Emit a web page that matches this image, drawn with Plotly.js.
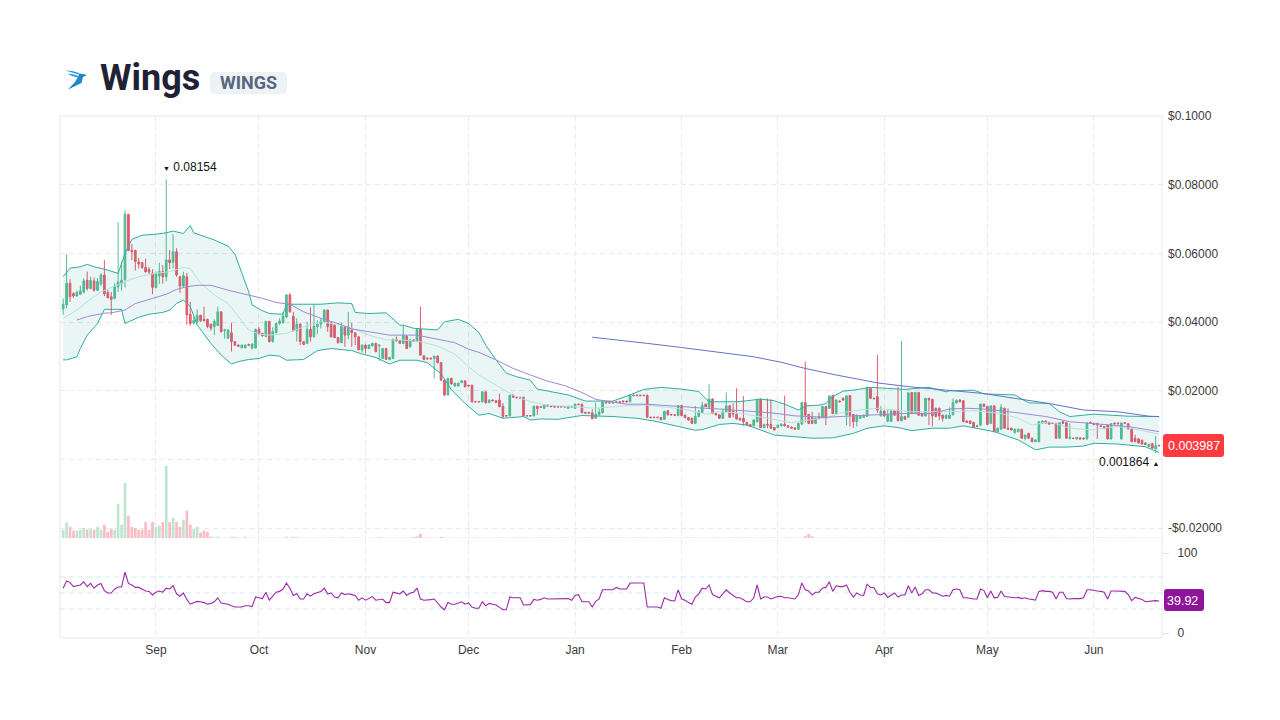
<!DOCTYPE html>
<html><head><meta charset="utf-8">
<script src="https://cdn.plot.ly/plotly-3.0.1.min.js"></script>
<style>html,body{margin:0;padding:0;background:#fff}#c{width:1280px;height:720px}</style>
</head><body><div id="c"></div>
<script>
const startDate = Date.UTC(2018,7,5);
const monthTicks = ['2018-09-01','2018-10-01','2018-11-01','2018-12-01','2019-01-01','2019-02-01','2019-03-01','2019-04-01','2019-05-01','2019-06-01'];
const monthLabels = ['Sep','Oct','Nov','Dec','Jan','Feb','Mar','Apr','May','Jun'];
const priceTicks = [0.1,0.08,0.06,0.04,0.02,0,-0.02];
const priceLabels = ['$0.1000','$0.08000','$0.06000','$0.04000','$0.02000','','-$0.02000'];
const rsiTicks = [100,0];
const rsiLevels = [70,50,30];

const open = [
.0438,.0450,.0513,.0483,.0476,.0481,.0488,.0522,.0498,.0520,
.0492,.0511,.0537,.0486,.0474,.0469,.0503,.0511,.0524,.0714,
.0609,.0609,.0575,.0573,.0559,.0553,.0542,.0501,.0534,.0547,
.0532,.0581,.0574,.0605,.0532,.0505,.0532,.0423,.0397,.0401,
.0420,.0408,.0408,.0394,.0387,.0390,.0430,.0375,.0353,.0369,
.0343,.0333,.0325,.0325,.0335,.0324,.0325,.0379,.0367,.0358,
.0402,.0343,.0369,.0396,.0398,.0415,.0479,.0417,.0375,.0394,
.0343,.0338,.0379,.0357,.0386,.0394,.0401,.0435,.0396,.0391,
.0355,.0340,.0385,.0362,.0377,.0369,.0357,.0319,.0333,.0323,
.0331,.0338,.0331,.0294,.0323,.0291,.0294,.0350,.0346,.0338,
.0359,.0328,.0348,.0344,.0379,.0302,.0295,.0295,.0294,.0301,
.0282,.0231,.0188,.0236,.0214,.0214,.0224,.0229,.0216,.0216,
.0169,.0169,.0168,.0197,.0166,.0173,.0171,.0173,.0155,.0128,
.0127,.0187,.0182,.0181,.0181,.0128,.0128,.0127,.0155,.0153,
.0149,.0158,.0155,.0154,.0154,.0154,.0154,.0149,.0155,.0149,
.0161,.0161,.0137,.0137,.0136,.0120,.0130,.0136,.0167,.0166,
.0166,.0168,.0168,.0170,.0170,.0168,.0187,.0187,.0187,.0187,
.0187,.0123,.0123,.0123,.0122,.0117,.0142,.0131,.0130,.0128,
.0157,.0129,.0122,.0120,.0105,.0125,.0137,.0161,.0152,.0176,
.0134,.0130,.0120,.0139,.0156,.0141,.0132,.0120,.0120,.0108,
.0101,.0098,.0110,.0175,.0093,.0102,.0102,.0093,.0093,.0098,
.0103,.0098,.0094,.0092,.0088,.0103,.0166,.0131,.0122,.0105,
.0124,.0122,.0154,.0149,.0186,.0134,.0170,.0178,.0130,.0186,
.0131,.0110,.0120,.0123,.0126,.0207,.0178,.0183,.0127,.0141,
.0111,.0111,.0141,.0144,.0113,.0125,.0123,.0195,.0134,.0195,
.0134,.0127,.0178,.0175,.0149,.0149,.0129,.0120,.0120,.0130,
.0165,.0173,.0171,.0112,.0112,.0108,.0098,.0100,.0161,.0154,
.0105,.0156,.0081,.0088,.0149,.0091,.0091,.0078,.0081,.0088,
.0062,.0076,.0062,.0052,.0052,.0106,.0112,.0107,.0106,.0105,
.0062,.0110,.0107,.0062,.0062,.0060,.0063,.0062,.0060,.0108,
.0105,.0105,.0098,.0096,.0100,.0060,.0106,.0106,.0060,.0107,
.0104,.0090,.0062,.0060,.0056,.0048,.0038,.0046,.0031,.0041];
const high = [
.0469,.0597,.0525,.0487,.0492,.0506,.0527,.0547,.0532,.0530,
.0528,.0542,.0581,.0495,.0488,.0513,.0690,.0576,.0726,.0714,
.0627,.0609,.0587,.0574,.0585,.0560,.0554,.0547,.0573,.0566,
.08154,.0610,.0656,.0615,.0535,.0547,.0544,.0459,.0416,.0437,
.0421,.0445,.0410,.0396,.0408,.0445,.0430,.0380,.0379,.0398,
.0345,.0335,.0335,.0335,.0337,.0338,.0381,.0385,.0369,.0404,
.0404,.0385,.0398,.0411,.0430,.0481,.0485,.0430,.0411,.0398,
.0344,.0401,.0443,.0452,.0405,.0411,.0437,.0437,.0401,.0393,
.0357,.0398,.0387,.0430,.0398,.0371,.0359,.0335,.0335,.0335,
.0340,.0340,.0335,.0325,.0325,.0299,.0352,.0358,.0348,.0391,
.0361,.0350,.0350,.0381,.0445,.0304,.0297,.0297,.0301,.0303,
.0284,.0233,.0238,.0238,.0224,.0224,.0231,.0231,.0218,.0218,
.0170,.0170,.0199,.0199,.0175,.0175,.0173,.0192,.0165,.0129,
.0189,.0189,.0184,.0183,.0183,.0129,.0129,.0157,.0157,.0155,
.0161,.0160,.0157,.0156,.0156,.0156,.0156,.0157,.0156,.0163,
.0163,.0163,.0139,.0139,.0146,.0165,.0149,.0169,.0169,.0168,
.0168,.0170,.0170,.0172,.0172,.0189,.0189,.0189,.0189,.0189,
.0189,.0125,.0125,.0125,.0124,.0142,.0144,.0133,.0132,.0159,
.0159,.0131,.0124,.0122,.0156,.0144,.0168,.0163,.0219,.0178,
.0136,.0132,.0146,.0195,.0159,.0163,.0207,.0122,.0185,.0110,
.0103,.0117,.0177,.0177,.0104,.0178,.0176,.0095,.0102,.0105,
.0186,.0100,.0096,.0094,.0107,.0168,.0285,.0133,.0139,.0122,
.0137,.0156,.0156,.0187,.0188,.0175,.0172,.0180,.0187,.0188,
.0133,.0131,.0127,.0131,.0212,.0209,.0180,.0304,.0155,.0143,
.0144,.0143,.0143,.0212,.0345,.0127,.0196,.0197,.0197,.0197,
.0136,.0180,.0180,.0177,.0151,.0151,.0131,.0131,.0152,.0178,
.0175,.0175,.0173,.0114,.0114,.0110,.0100,.0163,.0163,.0156,
.0158,.0158,.0093,.0161,.0151,.0149,.0093,.0090,.0090,.0090,
.0073,.0078,.0064,.0059,.0112,.0114,.0114,.0109,.0108,.0107,
.0109,.0112,.0109,.0105,.0064,.0066,.0065,.0064,.0108,.0110,
.0107,.0107,.0100,.0098,.0102,.0106,.0108,.0108,.0108,.0109,
.0106,.0092,.0072,.0062,.0058,.0050,.0046,.0048,.0068,.0043];
const low = [
.0421,.0440,.0459,.0470,.0474,.0479,.0483,.0492,.0495,.0488,
.0490,.0505,.0476,.0469,.0421,.0466,.0488,.0491,.0501,.0608,
.0580,.0550,.0556,.0555,.0545,.0540,.0481,.0498,.0511,.0512,
.0518,.0554,.0556,.0532,.0485,.0500,.0392,.0389,.0392,.0396,
.0400,.0402,.0382,.0375,.0362,.0390,.0370,.0352,.0352,.0314,
.0330,.0328,.0323,.0323,.0330,.0320,.0323,.0362,.0358,.0356,
.0341,.0341,.0367,.0392,.0396,.0411,.0428,.0373,.0343,.0333,
.0333,.0336,.0343,.0355,.0365,.0381,.0399,.0372,.0355,.0353,
.0338,.0340,.0328,.0350,.0328,.0333,.0319,.0311,.0309,.0321,
.0329,.0312,.0287,.0292,.0290,.0289,.0292,.0343,.0336,.0336,
.0321,.0326,.0342,.0342,.0302,.0289,.0291,.0291,.0236,.0280,
.0229,.0184,.0186,.0218,.0212,.0212,.0222,.0210,.0212,.0166,
.0166,.0166,.0166,.0163,.0164,.0169,.0164,.0152,.0119,.0125,
.0125,.0179,.0178,.0177,.0125,.0125,.0125,.0125,.0130,.0150,
.0147,.0154,.0152,.0151,.0151,.0151,.0151,.0147,.0152,.0147,
.0158,.0134,.0133,.0133,.0117,.0118,.0128,.0134,.0163,.0163,
.0163,.0164,.0164,.0166,.0166,.0166,.0184,.0184,.0184,.0184,
.0121,.0120,.0120,.0120,.0114,.0115,.0128,.0128,.0127,.0126,
.0126,.0120,.0113,.0103,.0103,.0123,.0135,.0152,.0150,.0132,
.0128,.0118,.0118,.0137,.0121,.0122,.0116,.0113,.0098,.0098,
.0095,.0096,.0108,.0091,.0091,.0091,.0089,.0084,.0091,.0096,
.0096,.0092,.0089,.0086,.0086,.0101,.0108,.0103,.0103,.0103,
.0117,.0120,.0100,.0147,.0132,.0132,.0166,.0171,.0100,.0096,
.0092,.0096,.0118,.0121,.0124,.0176,.0175,.0136,.0125,.0125,
.0109,.0109,.0127,.0111,.0111,.0115,.0121,.0132,.0132,.0127,
.0125,.0125,.0100,.0096,.0123,.0115,.0110,.0118,.0118,.0128,
.0163,.0166,.0108,.0106,.0103,.0091,.0095,.0098,.0152,.0100,
.0103,.0079,.0079,.0086,.0089,.0086,.0084,.0076,.0079,.0060,
.0056,.0060,.0050,.0050,.0050,.0104,.0104,.0101,.0103,.0060,
.0060,.0103,.0060,.0058,.0059,.0058,.0058,.0058,.0058,.0104,
.0100,.0060,.0094,.0088,.0058,.0058,.0102,.0102,.0058,.0103,
.0087,.0050,.0050,.0046,.0043,.0042,.0036,.0031,.001864,.0039];
const close = [
.0452,.0513,.0474,.0476,.0487,.0491,.0520,.0498,.0522,.0493,
.0518,.0537,.0482,.0471,.0466,.0505,.0517,.0522,.0714,.0608,
.0605,.0576,.0569,.0559,.0546,.0546,.0501,.0540,.0548,.0532,
.0581,.0573,.0605,.0537,.0505,.0535,.0421,.0396,.0405,.0420,
.0404,.0404,.0387,.0382,.0402,.0430,.0372,.0377,.0377,.0343,
.0333,.0330,.0333,.0333,.0333,.0336,.0379,.0365,.0360,.0402,
.0343,.0372,.0396,.0403,.0418,.0479,.0430,.0375,.0394,.0343,
.0335,.0379,.0357,.0388,.0394,.0403,.0435,.0387,.0357,.0355,
.0340,.0387,.0362,.0387,.0369,.0357,.0319,.0333,.0323,.0333,
.0338,.0314,.0333,.0323,.0292,.0297,.0350,.0345,.0338,.0362,
.0323,.0348,.0344,.0379,.0304,.0291,.0293,.0293,.0301,.0282,
.0231,.0188,.0236,.0220,.0222,.0222,.0229,.0212,.0214,.0168,
.0168,.0168,.0197,.0165,.0173,.0171,.0166,.0154,.0125,.0127,
.0187,.0181,.0180,.0179,.0127,.0127,.0127,.0155,.0148,.0152,
.0159,.0156,.0154,.0153,.0153,.0153,.0153,.0155,.0153,.0161,
.0160,.0136,.0135,.0135,.0119,.0132,.0138,.0167,.0165,.0165,
.0165,.0166,.0166,.0168,.0168,.0187,.0186,.0186,.0186,.0186,
.0123,.0122,.0122,.0122,.0116,.0140,.0130,.0130,.0129,.0157,
.0128,.0122,.0115,.0105,.0125,.0139,.0158,.0154,.0176,.0134,
.0130,.0120,.0139,.0156,.0123,.0132,.0118,.0115,.0110,.0100,
.0097,.0115,.0175,.0093,.0102,.0100,.0091,.0086,.0100,.0103,
.0098,.0094,.0091,.0088,.0105,.0166,.0129,.0105,.0105,.0120,
.0120,.0154,.0120,.0185,.0134,.0173,.0168,.0173,.0185,.0129,
.0110,.0129,.0125,.0129,.0210,.0178,.0177,.0144,.0141,.0127,
.0129,.0141,.0129,.0113,.0125,.0117,.0194,.0134,.0195,.0129,
.0127,.0178,.0173,.0127,.0125,.0127,.0120,.0129,.0129,.0166,
.0172,.0168,.0110,.0108,.0105,.0093,.0097,.0161,.0154,.0102,
.0156,.0081,.0091,.0152,.0091,.0088,.0086,.0088,.0088,.0062,
.0071,.0062,.0052,.0057,.0110,.0112,.0106,.0103,.0105,.0062,
.0107,.0105,.0062,.0065,.0061,.0064,.0060,.0060,.0106,.0106,
.0102,.0101,.0096,.0090,.0060,.0104,.0104,.0104,.0106,.0105,
.0089,.0052,.0052,.0048,.0045,.0044,.0044,.0033,.0040,.003987];
const volume = [
25,46,33,22,22,25,30,25,28,25,
33,25,40,18,28,25,103,40,165,67,
33,30,25,25,48,25,48,33,37,48,
216,48,60,48,33,55,82,40,28,33,
16,22,18,4,2,4,1,1,1,3,
3,1,1,4,1,1,1,1,1,1,
1,1,1,1,1,4,1,3,3,1,
1,1,1,1,1,1,1,1,1,1,
1,3,1,1,1,1,1,1,1,1,
1,1,3,1,1,1,1,1,1,1,
1,1,3,5,13,1,1,1,1,1,
3,1,1,1,1,1,1,1,1,1,
1,1,1,1,1,1,1,1,1,1,
1,1,1,1,1,1,1,1,1,1,
1,1,1,1,1,1,1,1,1,1,
1,1,1,1,1,1,1,1,1,1,
1,1,1,1,1,1,1,1,1,1,
1,1,1,1,1,1,1,1,1,1,
1,1,1,1,1,1,1,1,1,1,
1,1,1,1,1,1,1,1,1,1,
1,1,1,1,1,1,1,1,1,1,
1,1,1,1,1,1,5,12,5,1,
1,1,1,1,1,1,1,1,1,1,
1,1,1,1,1,1,1,1,1,1,
1,1,1,1,1,1,1,1,1,1,
1,1,1,1,1,1,1,1,1,1,
1,1,1,1,1,1,1,1,1,1,
1,1,1,1,1,1,1,1,1,1,
1,1,1,1,1,1,1,1,1,1,
1,1,1,1,1,1,1,1,1,1,
1,1,1,1,1,1,1,1,1,1,
1,1,1,1,1,1,1,1,1,1];
const rsi = [
56,65,63,58,59,60,64,58,62,56,
60,62,53,50,50,55,57.5,57.5,76,62,
60,57,57,55,52.5,52,47.5,51,52.5,51,
56,55,59,49,46,50,42,36,37.5,39.5,
39,38,36,37,39,44,37.5,37,36,34,
32.5,32.5,32.5,34,34,33,45,44,43,51,
41,46,51,52,55,62.5,56,47,49,42.5,
42.5,49,46,49,51,52,56,49,50,45,
44,50,48,49,48,47,41,44,41,43,
45.5,41,41.5,42.5,38,38,51,50,49,52.5,
47,50,51,56,42.5,41,41,41.7,42.5,37.5,
32.5,29,38,36,36,37.5,39,36,37.5,32.5,
31,31,39,34,37,36,35,32,29,29,
45,44,44,44,35,35,35.5,42,41,42,
44,42.5,42.5,42.5,42.5,42.5,42.5,43,41,47,
48,39,39,39,32.5,39.5,42.5,54,54,54,
54,57,55,55,55,62.5,62.5,62.5,62.5,62.5,
32.5,32.5,32.5,32.5,31,44,42,40.5,40,54,
42.5,41,38,36,45,49,56,55,60,48,
46,44,49,54,50,47.5,44,44,41,39,
39,44,60,42.5,45,45,42.5,44,45.5,46,
44,44,43,42.5,48,62.5,54,52.5,47.5,51,
51,56,57,64,52,59,58,58,60,51,
45,50,47.5,47,61,57,56.5,49,47.5,50,
44.5,47,50,45,47.5,47.5,59,50,57.5,47,
49,54,54,50,50,48,46,47,46,54,
55,54,44,44,43,42.5,42.5,55,53,44,
52.5,44,44.5,52.5,45.5,45,45,44,44.5,43,
44,42.5,42,41,52,53,52,52,51,42.5,
51,51,43,42.5,43,43,43,44,54,54,
53,52.5,52,51,42.5,52.5,52.5,52.5,52.5,52,
48,40.5,44.5,43,42,39,39.5,39.5,40.5,39.92];

const upperDay = [0,2,5,7,9,12,16,18,20,23,27,30,32,35,37,38,44,48,50,52,54,55,58,60,64,65,70,75,80,84,85,89,94,98,99,102,109,111,115,118,121,123,126,129,132,136,138,141,147,152,160,165,169,174,180,185,188,191,196,199,203,207,210,214,216,220,222,224,227,230,235,240,245,252,257,258,265,268,277,281,287,290,293,300,310,319];
const upper = [.0532,.0557,.0561,.0568,.0561,.0554,.0542,.0600,.0641,.0653,.0656,.0660,.0665,.0658,.0681,.0660,.0639,.0621,.0598,.0542,.0488,.0450,.0433,.0425,.0423,.0452,.0452,.0452,.0456,.0454,.0428,.0425,.0427,.0391,.0391,.0382,.0377,.0401,.0408,.0396,.0370,.0333,.0290,.0251,.0241,.0231,.0205,.0200,.0188,.0170,.0170,.0188,.0204,.0210,.0205,.0198,.0168,.0168,.0168,.0171,.0176,.0171,.0161,.0144,.0156,.0158,.0163,.0183,.0199,.0202,.0210,.0207,.0204,.0210,.0197,.0200,.0202,.0191,.0188,.0165,.0163,.0139,.0125,.0132,.0126,.0125];
const lowerDay = [0,1,4,5,7,10,12,14,17,18,22,25,29,31,33,35,37,39,43,46,49,51,54,57,60,63,65,70,74,78,84,87,91,95,98,103,106,110,113,117,121,124,128,134,136,139,144,149,151,160,167,172,179,184,186,191,195,199,203,207,211,215,218,224,230,234,239,243,247,253,258,262,268,271,278,283,287,292,297,300,307,311,315,319];
const lower = [.0290,.0290,.0299,.0323,.0362,.0396,.0437,.0437,.0437,.0396,.0414,.0423,.0428,.0435,.0454,.0464,.0445,.0392,.0338,.0304,.0278,.0285,.0291,.0294,.0304,.0301,.0289,.0291,.0317,.0323,.0317,.0307,.0297,.0278,.0289,.0289,.0282,.0249,.0203,.0163,.0129,.0134,.0120,.0125,.0115,.0118,.0117,.0125,.0128,.0125,.0120,.0112,.0097,.0085,.0087,.0102,.0105,.0100,.0086,.0071,.0068,.0064,.0062,.0063,.0076,.0091,.0098,.0093,.0084,.0091,.0091,.0098,.0088,.0081,.0057,.0028,.0036,.0036,.0039,.0047,.0045,.0042,.0037,.0020];
const middleDay = [0,4,7,11,16,19,22,27,31,35,37,40,44,48,51,54,57,60,65,70,75,80,84,89,94,99,104,109,114,118,121,125,131,136,141,151,155,163,170,176,182,187,191,197,202,207,212,217,222,226,232,237,242,247,253,258,265,273,278,282,287,293,299,307,312,319];
const middle = [.0411,.0435,.0459,.0488,.0508,.0522,.0532,.0542,.0547,.0559,.0556,.0513,.0479,.0454,.0416,.0377,.0365,.0362,.0367,.0386,.0401,.0393,.0382,.0362,.0348,.0348,.0343,.0330,.0307,.0270,.0246,.0222,.0187,.0168,.0158,.0152,.0149,.0156,.0158,.0152,.0144,.0132,.0139,.0135,.0126,.0115,.0107,.0115,.0120,.0135,.0144,.0149,.0144,.0139,.0139,.0139,.0142,.0134,.0120,.0100,.0110,.0091,.0086,.0096,.0088,.0074];
const smaDay = [4,7,12,14,18,21,26,30,33,36,39,43,48,54,58,62,66,70,75,80,84,89,95,103,109,114,118,121,126,131,136,141,146,151,155,160,164,170,176,182,187,191,201,206,213,222,230,238,245,253,258,263,268,277,286,293,300,310,319];
const sma = [.0406,.0416,.0426,.0427,.0435,.0454,.0469,.0481,.0495,.0503,.0507,.0507,.0493,.0479,.0469,.0457,.0452,.0430,.0411,.0396,.0380,.0372,.0362,.0362,.0350,.0340,.0321,.0312,.0290,.0265,.0246,.0228,.0215,.0195,.0175,.0166,.0161,.0161,.0156,.0151,.0149,.0147,.0141,.0136,.0127,.0123,.0127,.0131,.0134,.0134,.0147,.0149,.0147,.0137,.0125,.0110,.0105,.0096,.0081];
const longDay = [154,160,170,180,191,201,209,216,225,237,246,253,258,268,277,287,297,307,316,319];
const longSma = [.0356,.0350,.0338,.0326,.0312,.0299,.0283,.0265,.0246,.0223,.0212,.0205,.0202,.0192,.0178,.0163,.0144,.0139,.0126,.0125];

const dateOf = d => new Date(startDate + d*86400000).toISOString().slice(0,10);
const dates = close.map((_,i)=>dateOf(i));

const GREEN='#55bb8f', RED='#e6586b', TEAL='#2fae9f';
const frameW=1102, frameH=522;
const px=x=>(x-60)/frameW, py=y=>(638-y)/frameH;
function rr(x0,y0,x1,y1,r){
  return `M${px(x0+r)},${py(y0)} L${px(x1-r)},${py(y0)} Q${px(x1)},${py(y0)} ${px(x1)},${py(y0+r)} L${px(x1)},${py(y1-r)} Q${px(x1)},${py(y1)} ${px(x1-r)},${py(y1)} L${px(x0+r)},${py(y1)} Q${px(x0)},${py(y1)} ${px(x0)},${py(y1-r)} L${px(x0)},${py(y0+r)} Q${px(x0)},${py(y0)} ${px(x0+r)},${py(y0)} Z`;
}
function poly(pts){return 'M'+pts.map(p=>`${px(p[0])},${py(p[1])}`).join(' L')+' Z';}
const paperShape=(path,fill)=>({type:'path',xref:'paper',yref:'paper',path,fillcolor:fill,line:{width:0},layer:'above'});

const traces=[
 {type:'bar',x:dates,y:volume,yaxis:'y3',width:86400000*0.78,
  marker:{color:close.map((c,i)=>c>=open[i]?'#bfe4d2':'#f9bcc4'),line:{width:0}},hoverinfo:'skip'},
 {type:'scatter',mode:'lines',x:upperDay.map(dateOf),y:upper,line:{color:TEAL,width:1},hoverinfo:'skip'},
 {type:'scatter',mode:'lines',x:lowerDay.map(dateOf),y:lower,line:{color:TEAL,width:1},fill:'tonexty',fillcolor:'rgba(42,167,155,0.10)',hoverinfo:'skip'},
 {type:'scatter',mode:'lines',x:middleDay.map(dateOf),y:middle,line:{color:'#b5e2dc',width:1},hoverinfo:'skip'},
 {type:'scatter',mode:'lines',x:smaDay.map(dateOf),y:sma,line:{color:'#a088d6',width:1},hoverinfo:'skip'},
 {type:'scatter',mode:'lines',x:longDay.map(dateOf),y:longSma,line:{color:'#6272c8',width:1},hoverinfo:'skip'},
 {type:'candlestick',x:dates,open,high,low,close,whiskerwidth:0,width:86400000*0.62,
  increasing:{line:{color:GREEN,width:1},fillcolor:GREEN},
  decreasing:{line:{color:RED,width:1},fillcolor:RED},hoverinfo:'skip'},
 {type:'scatter',mode:'lines',x:dates,y:rsi,yaxis:'y2',line:{color:'#9b2aa8',width:1.1},hoverinfo:'skip'}
];

const grid='#e9e9e9';
const layout={
 width:1280,height:720,margin:{l:60,r:118,t:116,b:82,pad:0},
 paper_bgcolor:'#fff',plot_bgcolor:'#fff',showlegend:false,hovermode:false,dragmode:false,
 font:{family:'"Liberation Sans",Arial,sans-serif',size:12,color:'#3a3a3a'},
 xaxis:{type:'date',anchor:'y2',range:['2018-08-04 02:00','2019-06-20 20:00'],rangeslider:{visible:false},
   tickmode:'array',tickvals:monthTicks,ticktext:monthLabels,ticks:'',showline:false,
   showgrid:true,gridcolor:grid,griddash:'5px,4px',gridwidth:1,zeroline:false,ticklabelstandoff:3},
 yaxis:{domain:[98/522,1],side:'right',range:[-0.02344,0.1],tickmode:'array',tickvals:priceTicks,ticktext:priceLabels,
   showgrid:true,gridcolor:grid,griddash:'5px,4px',gridwidth:1,zeroline:false,showline:false,ticks:'',ticklabelstandoff:5},
 yaxis2:{domain:[0,98/522],side:'right',range:[-6.25,116.25],tickmode:'array',tickvals:rsiTicks,
   showgrid:false,zeroline:false,showline:false,ticks:'outside',ticklen:6,tickcolor:'#dfe3e8',ticklabelstandoff:6},
 yaxis3:{domain:[98/522,1],overlaying:'y',side:'left',range:[-6,1266],visible:false,fixedrange:true},
 shapes:[
  {type:'rect',xref:'paper',yref:'paper',x0:0,x1:1,y0:0,y1:1,line:{color:'#e6e8ec',width:1},fillcolor:'rgba(0,0,0,0)',layer:'below'},
  ...rsiLevels.map(v=>({type:'line',xref:'paper',yref:'y2',x0:0,x1:1,y0:v,y1:v,line:{color:'#cfe9f5',width:1,dash:'5px,4px'},layer:'below'})),
  paperShape(rr(210,72,287,94,5),'#eff2f5'),
  paperShape(rr(1163,434,1224,457,3),'#ff3b3f'),
  paperShape(rr(1164,589,1204,611,3),'#8e1599'),
  paperShape(poly([[65,70.5],[72,71],[79,73],[78.5,74.5],[72,72.5]]),'#2a9bd8'),
  paperShape(poly([[67,73.5],[74,74.5],[78.5,76],[78,77.5],[72,76]]),'#2a9bd8'),
  paperShape(poly([[79,73.5],[83,74],[87,75],[83,77],[81.5,83],[68,89.5],[75,82],[78.5,76]]),'#1e88c9')
 ],
 annotations:[
  {xref:'paper',yref:'paper',x:px(98),y:py(78),xanchor:'left',yanchor:'middle',text:'<b>Wings</b>',showarrow:false,
   font:{family:'Roboto',size:36,color:'#1f2235'}},
  {xref:'paper',yref:'paper',x:px(248.5),y:py(83),xanchor:'center',yanchor:'middle',text:'<b>WINGS</b>',showarrow:false,
   font:{family:'Roboto',size:18,color:'#58667e'}},
  {xref:'x',yref:'y',x:dateOf(30),y:high[30],xanchor:'left',yanchor:'bottom',yshift:3,xshift:-5,showarrow:false,
   text:'<span style="font-size:7px">▼</span> '+high[30].toFixed(5),font:{size:12,color:'#111'}},
  {xref:'x',yref:'y',x:dateOf(318),y:low[318],xanchor:'right',yanchor:'top',yshift:0,xshift:5,showarrow:false,
   text:low[318].toFixed(6)+' <span style="font-size:7px">▲</span>',font:{size:12,color:'#111'}},
  {xref:'paper',yref:'paper',x:px(1193.5),y:py(446),xanchor:'center',yanchor:'middle',showarrow:false,
   text:close[319].toFixed(6),font:{size:12.5,color:'#fff'}},
  {xref:'paper',yref:'paper',x:px(1182.5),y:py(601),xanchor:'center',yanchor:'middle',showarrow:false,
   text:rsi[319].toFixed(2),font:{size:12.5,color:'#fff'}}
 ]
};
Plotly.newPlot('c',traces,layout,{staticPlot:true,displayModeBar:false});
</script></body></html>
